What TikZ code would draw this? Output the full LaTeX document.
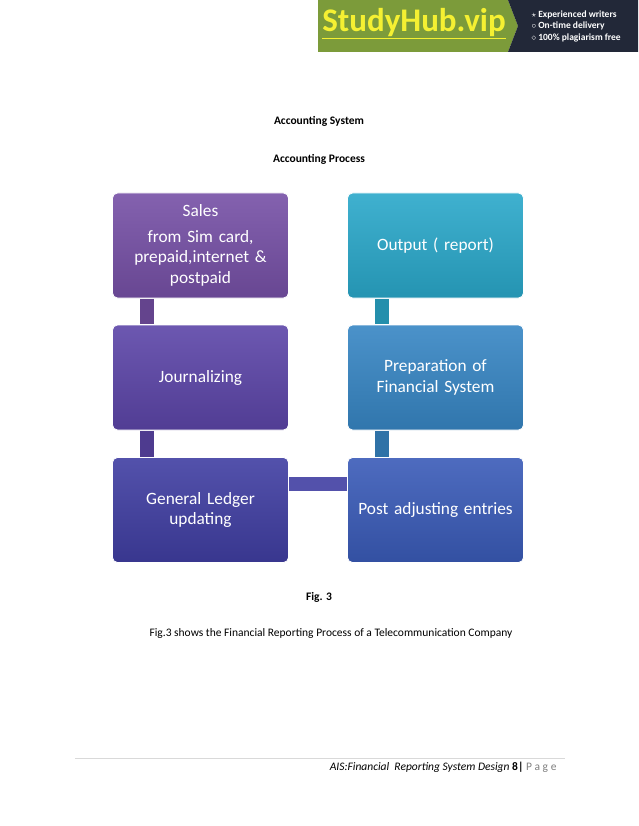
\documentclass[tikz,border=0pt]{standalone}
\usepackage{fontspec}
\setmainfont{Carlito}
\usetikzlibrary{calc}
\definecolor{cS}{HTML}{7650A6}\definecolor{cJ}{HTML}{5C45A8}\definecolor{cG}{HTML}{403EA2}
\definecolor{cO}{HTML}{2AA8CA}\definecolor{cP}{HTML}{3786C4}\definecolor{cA}{HTML}{3A5BB8}
\definecolor{lgreen}{RGB}{124,155,58}\definecolor{lnavy}{RGB}{34,40,56}\definecolor{lyel}{RGB}{245,240,50}
\begin{document}
\begin{tikzpicture}[x=1pt,y=-1pt,
 box/.style={minimum width=175pt,minimum height=105pt,rounded corners=5pt,draw=white,line width=0.8pt,
   top color=#1!90!white,bottom color=#1!88!black,text=white,align=center,font=\fontsize{17.3}{20.5}\selectfont,
   inner sep=2pt,text width=172pt},
 link/.style={line width=14pt,draw=#1},
 ttl/.style={font=\bfseries\fontsize{11.5}{13}\selectfont}]
\useasboundingbox (0,0) rectangle (638,826);
\fill[white] (0,0) rectangle (638,826);
% logo
\fill[lgreen] (318,0) -- (508,0) -- (518,26) -- (508,52) -- (318,52) -- cycle;
\fill[lnavy] (508,0) -- (638,0) -- (638,52) -- (508,52) -- (518,26) -- cycle;
\node[font=\bfseries\fontsize{33}{34}\selectfont,text=lyel] (logo) at (414,24) {\underline{StudyHub.vip}};
\node[anchor=west,text=white,font=\bfseries\fontsize{9.5}{10.5}\selectfont,align=left] (lt) at (528,26)
 {$\star$ Experienced writers\\[1pt] $\circ$ On-time delivery\\[1pt] $\diamond$ 100\% plagiarism free};
% titles
\node[ttl] (t1) at (319,121) {Accounting System};
\node[ttl] (t2) at (319,159) {Accounting Process};
\node[box=cS] (s) at (200.5,245.5) {Sales\\[5pt] from Sim card,\\ prepaid,internet \&\\ postpaid};
\node[box=cJ] (j) at (200.5,377.5) {Journalizing};
\node[box=cG] (g) at (200.5,510) {General Ledger\\ updating};
\node[box=cO] (o) at (435.5,245.5) {Output ( report)};
\node[box=cP] (p) at (435.5,377.5) {Preparation of\\ Financial System};
\node[box=cA] (a) at (435.5,510) {Post adjusting entries};
\draw[link=cS!85!black] ($(s.south west)+(35,0.5)$) -- ($(j.north west)+(35,-0.5)$);
\draw[link=cJ!85!black] ($(j.south west)+(35,0.5)$) -- ($(g.north west)+(35,-0.5)$);
\draw[link=cO!85!black] ($(o.south west)+(35,0.5)$) -- ($(p.north west)+(35,-0.5)$);
\draw[link=cP!85!black] ($(p.south west)+(35,0.5)$) -- ($(a.north west)+(35,-0.5)$);
\draw[link=cG!90!white] ($(g.north east)+(0.5,27)$) -- ($(a.north west)+(-0.5,27)$);
\node[ttl] (f3) at (319,597) {Fig. 3};
\node[anchor=west,font=\fontsize{11.5}{13}\selectfont] (cap) at (146,633) {Fig.3 shows the Financial Reporting Process of a Telecommunication Company};
\draw[black!15,line width=0.6pt] (75,758) -- (565,758);
\node[anchor=east,font=\fontsize{11.5}{13}\selectfont] (ft) at (560,767) {\textit{AIS:Financial\ \ Reporting System Design} \textbf{8|} \textcolor{black!50}{P a g e}};
\end{tikzpicture}
\end{document}
